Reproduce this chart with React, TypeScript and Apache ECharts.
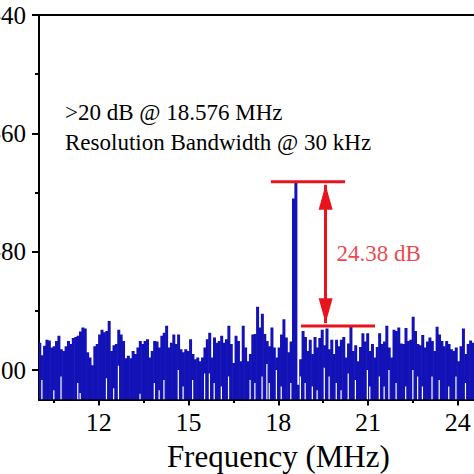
import React, { useEffect, useRef } from "react";
import * as echarts from "echarts";

// Axis layout (MHz / dBm)
const X_MIN = 10;
const X_MAX = 26;
const Y_MIN = -105;
const Y_MAX = -40;
const X_TICKS = [12, 15, 18, 21, 24];
const X_MINOR_TICKS = [10.5, 13.5, 16.5, 19.5, 22.5, 25.5];
const Y_TICKS = [-40, -60, -80, -100];
const Y_MINOR_TICKS = [-50, -70, -90];

// Beat-note measurement
const PEAK_MHZ = 18.576;
const PEAK_DBM = -68.2;
const SUPPRESSION_DB = 24.38;
const NOISE_REF_DBM = PEAK_DBM - SUPPRESSION_DB;
const RBW_KHZ = 30;
const SWEEP_STEP_MHZ = 0.08;

// Trace levels (dBm), one per sweep point
const LEVEL_DBM: number[] = [
  -95.4, -97.5, -95.9, -94.9, -95.0, -96.2, -96.0, -95.1, -94.2, -96.5,
  -96.8, -96.0, -95.1, -95.6, -94.6, -94.4, -94.2, -93.5, -92.8, -93.0,
  -97.0, -97.9, -99.2, -96.0, -95.6, -94.0, -93.2, -93.6, -93.4, -91.7,
  -96.8, -95.8, -95.6, -93.2, -94.0, -95.1, -98.0, -97.6, -98.0, -96.8,
  -97.3, -96.2, -95.1, -95.6, -95.1, -94.8,
  -97.9, -96.8, -95.1, -95.2, -96.2, -94.2, -93.7, -92.5, -96.2, -95.4,
  -94.0, -95.6, -94.0, -96.5, -97.0, -96.5, -96.8, -94.8, -97.3, -98.2,
  -97.9, -98.5, -97.9, -96.2, -94.8, -93.7, -97.9, -94.5, -95.4, -95.1,
  -94.2, -95.4, -94.8, -92.5, -95.6, -98.8, -94.2, -95.1, -98.5, -92.5,
  -96.2, -98.5, -97.3, -94.0, -93.9, -89.3,
  -92.8, -90.5, -93.9, -95.1, -96.0, -92.8, -96.2, -97.9, -96.2, -94.0,
  -91.4, -94.5, -97.0, -95.2, -71.0, PEAK_DBM, -102.5, -98.2, -93.4, -94.4,
  -96.8, -94.9, -97.3, -94.4, -96.2, -94.6, -93.2, -95.8, -93.0, -96.5,
  -94.9, -97.3, -94.9, -96.0, -94.9, -94.4, -97.9, -95.5, -92.7, -96.8,
  -95.8, -98.5, -96.1, -93.8, -95.2, -93.8,
  -96.8, -95.6, -97.9, -96.1, -93.8, -95.6, -95.2, -92.5, -96.2, -97.9,
  -93.2, -93.4, -92.8, -95.5, -95.6, -92.9, -95.1, -94.9, -91.0, -93.4,
  -95.6, -95.8, -94.1, -96.2, -95.2, -94.5, -95.1, -96.8, -92.7, -94.0,
  -95.1, -96.0, -95.1, -95.6, -96.5, -96.8, -96.2, -98.5, -96.0, -93.0,
  -97.3, -95.6, -95.0, -95.4, -96.0, -95.2,
];

// Sweep points whose minimum stays above the floor: [point index, min dBm]
const TROUGHS: [number, number][] = [
  [1, -101.7], [6, -103.4], [9, -101.1], [16, -102.2], [17, -103.9],
  [28, -101.4], [31, -103.1], [33, -99.3], [42, -104.0], [48, -102.2],
  [50, -103.4], [52, -101.7], [58, -100.0], [60, -102.8], [64, -101.7],
  [69, -100.6], [71, -100.6], [73, -102.2], [76, -102.8], [79, -101.1],
  [88, -101.7], [90, -102.2], [93, -101.1], [95, -99.0], [96, -102.2],
  [99, -100.0], [101, -102.8], [105, -102.2], [109, -101.1], [111, -102.2],
  [114, -102.8], [116, -103.4], [119, -99.6], [121, -101.1], [124, -102.2],
  [126, -103.4], [129, -100.6], [132, -101.7], [137, -100.0], [138, -102.8],
  [142, -101.1], [144, -102.8], [146, -100.0], [149, -102.2], [153, -102.8],
  [156, -100.0], [158, -101.1], [160, -102.8], [164, -101.1], [167, -101.7],
  [171, -102.8], [174, -101.1], [178, -102.2],
];

// Annotation bars (MHz spans)
const PEAK_BAR_MHZ: [number, number] = [17.75, 20.23];
const NOISE_BAR_MHZ: [number, number] = [18.76, 21.23];
const ARROW_MHZ = 19.58;

const TRACE_BLUE = "#1212b6";
const RED = "#e8141c";
const SERIF = "Liberation Serif, Times New Roman, serif";

const PEAK_INDEX = LEVEL_DBM.indexOf(PEAK_DBM);
const troughMap = new Map<number, number>(TROUGHS);
const traceData = LEVEL_DBM.map((v, i) => [
  PEAK_MHZ + (i - PEAK_INDEX) * SWEEP_STEP_MHZ,
  v,
  troughMap.has(i) ? (troughMap.get(i) as number) : Y_MIN - 1,
]);

export default function App() {
  const ref = useRef<HTMLDivElement>(null);

  useEffect(() => {
    if (!ref.current) return;
    const chart = echarts.init(ref.current, undefined, { renderer: "svg" });

    const axisLine = { show: true, lineStyle: { color: "#000", width: 2 } };
    const tickLine = { color: "#000", width: 2 };

    chart.setOption({
      animation: false,
      backgroundColor: "#fff",
      grid: {
        left: 39,
        top: 15,
        width: 478.7,
        height: 384.6,
        show: true,
        borderColor: "#000",
        borderWidth: 2,
        backgroundColor: "transparent",
        containLabel: false,
        outerBoundsMode: "none",
      },
      xAxis: [
        {
          type: "value",
          min: X_MIN,
          max: X_MAX,
          position: "bottom",
          axisLine,
          axisTick: { show: true, customValues: X_TICKS, length: 6, lineStyle: tickLine },
          axisLabel: {
            customValues: X_TICKS,
            margin: 10,
            color: "#000",
            fontSize: 26,
            fontFamily: SERIF,
          },
          splitLine: { show: false },
          name: "Frequency (MHz)",
          nameLocation: "middle",
          nameGap: 37,
          nameTextStyle: { color: "#000", fontSize: 31, fontFamily: SERIF },
        },
        {
          type: "value",
          min: X_MIN,
          max: X_MAX,
          position: "bottom",
          axisLine: { show: false },
          axisTick: { show: true, customValues: X_MINOR_TICKS, length: 3.5, lineStyle: tickLine },
          axisLabel: { show: false },
          splitLine: { show: false },
        },
      ],
      yAxis: [
        {
          type: "value",
          min: Y_MIN,
          max: Y_MAX,
          position: "left",
          axisLine,
          axisTick: { show: true, customValues: Y_TICKS, length: 7, lineStyle: tickLine },
          axisLabel: {
            customValues: Y_TICKS,
            margin: 13,
            color: "#000",
            fontSize: 25,
            fontFamily: SERIF,
          },
          splitLine: { show: false },
        },
        {
          type: "value",
          min: Y_MIN,
          max: Y_MAX,
          position: "left",
          axisLine: { show: false },
          axisTick: { show: true, customValues: Y_MINOR_TICKS, length: 4, lineStyle: tickLine },
          axisLabel: { show: false },
          splitLine: { show: false },
        },
      ],
      series: [
        {
          type: "custom",
          name: "trace",
          clip: true,
          silent: true,
          data: traceData,
          encode: { x: 0, y: 1 },
          renderItem: (_params: any, api: any) => {
            const f = api.value(0) as number;
            const hi = api.value(1) as number;
            const lo = api.value(2) as number;
            const pL = api.coord([f - SWEEP_STEP_MHZ / 2, hi]);
            const pR = api.coord([f + SWEEP_STEP_MHZ / 2, Y_MIN]);
            const children: any[] = [
              {
                type: "rect",
                shape: { x: pL[0], y: pL[1], width: pR[0] - pL[0] + 0.6, height: pR[1] - pL[1] },
                style: { fill: TRACE_BLUE },
              },
            ];
            if (lo > Y_MIN) {
              const pLo = api.coord([f, lo]);
              children.push({
                type: "rect",
                shape: { x: pLo[0] - 0.6, y: pLo[1], width: 1.2, height: pR[1] - pLo[1] },
                style: { fill: "#fff" },
              });
            }
            return { type: "group", children };
          },
        },
        {
          type: "line",
          name: "peak level",
          silent: true,
          symbol: "none",
          data: [
            [PEAK_BAR_MHZ[0], PEAK_DBM],
            [PEAK_BAR_MHZ[1], PEAK_DBM],
          ],
          lineStyle: { color: RED, width: 3 },
          markLine: {
            silent: true,
            symbol: ["triangle", "triangle"],
            symbolSize: [14, 25],
            symbolOffset: [
              [0, 12.5],
              [0, 12.5],
            ],
            label: { show: false },
            lineStyle: { color: RED, width: 3, type: "solid" },
            itemStyle: { color: RED },
            emphasis: { disabled: true },
            data: [
              [
                { coord: [ARROW_MHZ, PEAK_DBM - 0.5] },
                { coord: [ARROW_MHZ, NOISE_REF_DBM + 0.5] },
              ],
            ],
          },
        },
        {
          type: "line",
          name: "noise level",
          silent: true,
          symbol: "none",
          data: [
            [NOISE_BAR_MHZ[0], NOISE_REF_DBM],
            [NOISE_BAR_MHZ[1], NOISE_REF_DBM],
          ],
          lineStyle: { color: RED, width: 3 },
        },
        {
          type: "scatter",
          name: "suppression",
          silent: true,
          symbolSize: 0,
          data: [[ARROW_MHZ, (PEAK_DBM + NOISE_REF_DBM) / 2]],
          label: {
            show: true,
            position: "right",
            distance: 11,
            formatter: `${SUPPRESSION_DB} dB`,
            color: RED,
            fontSize: 23,
            fontFamily: SERIF,
          },
        },
      ],
      graphic: [
        {
          type: "text",
          x: 65,
          y: 112,
          style: {
            text: `>20 dB @ ${PEAK_MHZ} MHz`,
            fontSize: 23,
            fontFamily: SERIF,
            fill: "#000",
            align: "left",
            verticalAlign: "middle",
          },
        },
        {
          type: "text",
          x: 65,
          y: 142,
          style: {
            text: `Resolution Bandwidth @ ${RBW_KHZ} kHz`,
            fontSize: 23,
            fontFamily: SERIF,
            fill: "#000",
            align: "left",
            verticalAlign: "middle",
          },
        },
      ],
    });

    return () => chart.dispose();
  }, []);

  return (
    <div
      ref={ref}
      style={{ position: "fixed", left: 0, top: 0, width: 474, height: 474, background: "#fff" }}
    />
  );
}
